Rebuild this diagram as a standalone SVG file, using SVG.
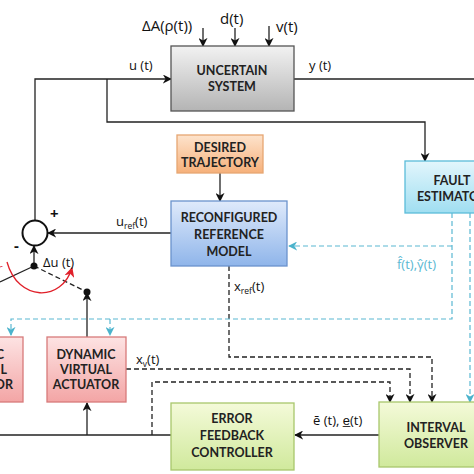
<svg xmlns="http://www.w3.org/2000/svg" width="474" height="474" viewBox="0 0 474 474">
<defs>
<linearGradient id="gGray" x1="0" y1="0" x2="0" y2="1"><stop offset="0" stop-color="#f2f2f2"/><stop offset="1" stop-color="#b4b4b4"/></linearGradient>
<linearGradient id="gOrange" x1="0" y1="0" x2="0" y2="1"><stop offset="0" stop-color="#fde3cc"/><stop offset="1" stop-color="#f6b07a"/></linearGradient>
<linearGradient id="gBlue" x1="0" y1="0" x2="0" y2="1"><stop offset="0" stop-color="#dfeafb"/><stop offset="1" stop-color="#8fb5ea"/></linearGradient>
<linearGradient id="gCyan" x1="0" y1="0" x2="0" y2="1"><stop offset="0" stop-color="#e2f6fc"/><stop offset="1" stop-color="#a0def1"/></linearGradient>
<linearGradient id="gPink" x1="0" y1="0" x2="0" y2="1"><stop offset="0" stop-color="#fde3e3"/><stop offset="1" stop-color="#f3a5a5"/></linearGradient>
<linearGradient id="gGreen" x1="0" y1="0" x2="0" y2="1"><stop offset="0" stop-color="#f4fad9"/><stop offset="1" stop-color="#d0e99c"/></linearGradient>
<marker id="ab" viewBox="0 0 10 10" refX="9" refY="5" markerWidth="9" markerHeight="9" markerUnits="userSpaceOnUse" orient="auto"><path d="M0,0 L10,5 L0,10 L3,5 z" fill="#111"/></marker>
<marker id="ac" viewBox="0 0 10 10" refX="9" refY="5" markerWidth="9" markerHeight="9" markerUnits="userSpaceOnUse" orient="auto"><path d="M0,0 L10,5 L0,10 L3,5 z" fill="#4bb3cc"/></marker>
<marker id="ar" viewBox="0 0 10 10" refX="9" refY="5" markerWidth="10" markerHeight="10" markerUnits="userSpaceOnUse" orient="auto"><path d="M0,0 L10,5 L0,10 L3,5 z" fill="#e0202a"/></marker>
</defs>
<style>
.box{stroke-width:1.3}
.bt{font-family:Lato,"Open Sans",sans-serif;font-weight:bold;font-size:12.5px;fill:#222;text-anchor:middle}
.lb{font-family:"Open Sans",sans-serif;font-size:13px;fill:#111}
.big{font-family:"Open Sans",sans-serif;font-size:15px;fill:#111}
.ln{fill:none;stroke:#222;stroke-width:1.3}
.dl{fill:none;stroke:#222;stroke-width:1.3;stroke-dasharray:5,3}
.cl{fill:none;stroke:#5ab8d2;stroke-width:1.2;stroke-dasharray:5,3}
</style>
<rect width="474" height="474" fill="#fff"/>
<g id="connectors">
<path class="ln" d="M35,221 V79 H171" marker-end="url(#ab)"/>
<path class="ln" d="M107,79 V122 H425 V161" marker-end="url(#ab)"/>
<path class="ln" d="M294,79 H474"/>
<path class="ln" d="M203,28 V46" marker-end="url(#ab)"/>
<path class="ln" d="M235,28 V46" marker-end="url(#ab)"/>
<path class="ln" d="M269,26 V46" marker-end="url(#ab)"/>
<path class="ln" d="M220,173 V201" marker-end="url(#ab)"/>
<path class="ln" d="M171,233 H48" marker-end="url(#ab)"/>
<path class="ln" d="M34,266 V246" marker-end="url(#ab)"/>
<path class="ln" d="M0,282 L34,266"/>
<path class="dl" d="M34,266 L87,292"/>
<path class="ln" d="M87,337 V293" marker-end="url(#ab)"/>
<path class="ln" d="M0,435 H171"/>
<path class="ln" d="M87,435 V403" marker-end="url(#ab)"/>
<path class="dl" d="M152,435 V382 H390 V402" marker-end="url(#ab)"/>
<path class="dl" d="M126,369 H410 V402" marker-end="url(#ab)"/>
<path class="dl" d="M229,266 V357 H432 V402" marker-end="url(#ab)"/>
<path class="ln" d="M379,435 H295" marker-end="url(#ab)"/>
<path class="cl" d="M452,213 V319 H11 V335" marker-end="url(#ac)"/>
<path class="cl" d="M110,319 V335" marker-end="url(#ac)"/>
<path class="cl" d="M452,246 H289" marker-end="url(#ac)"/>
<path class="cl" d="M470,213 V402" marker-end="url(#ac)"/>
<path fill="none" stroke="#e0202a" stroke-width="1.3" d="M7,262 C18,302 62,302 72,268" marker-end="url(#ar)"/>
<circle cx="34" cy="266" r="3.5" fill="#111"/>
<circle cx="87" cy="292" r="3.5" fill="#111"/>
</g>
<g id="sum">
<circle cx="35" cy="233" r="12.5" fill="#fff" stroke="#111" stroke-width="2"/>
<text class="big" x="50" y="219" style="font-size:15px;font-weight:bold">+</text>
<text class="big" x="14" y="251" style="font-size:15px;font-weight:bold">-</text>
</g>
<g id="uncertain">
<rect class="box" x="171" y="46" width="123" height="65" fill="url(#gGray)" stroke="#555"/>
<text class="bt" x="232" y="75">UNCERTAIN</text>
<text class="bt" x="232" y="91">SYSTEM</text>
</g>
<g id="desired">
<rect class="box" x="177" y="135" width="86" height="38" fill="url(#gOrange)" stroke="#e6a672"/>
<text class="bt" x="220" y="152">DESIRED</text>
<text class="bt" x="220" y="167">TRAJECTORY</text>
</g>
<g id="reconfigured">
<rect class="box" x="171" y="201" width="116" height="65" fill="url(#gBlue)" stroke="#6a93cc"/>
<text class="bt" x="229" y="222">RECONFIGURED</text>
<text class="bt" x="229" y="239">REFERENCE</text>
<text class="bt" x="229" y="256">MODEL</text>
</g>
<g id="fault">
<rect class="box" x="405" y="161" width="94" height="52" fill="url(#gCyan)" stroke="#5bbcd9"/>
<text class="bt" x="452" y="185">FAULT</text>
<text class="bt" x="452" y="201">ESTIMATOR</text>
</g>
<g id="leftbox">
<rect class="box" x="-60" y="337" width="83" height="65" fill="url(#gPink)" stroke="#d77a7a"/>
<text class="bt" x="4" y="359" style="text-anchor:end">C</text>
<text class="bt" x="7" y="374" style="text-anchor:end">L</text>
<text class="bt" x="13" y="389" style="text-anchor:end">OR</text>
</g>
<g id="dva">
<rect class="box" x="47" y="337" width="79" height="65" fill="url(#gPink)" stroke="#d77a7a"/>
<text class="bt" x="86" y="359">DYNAMIC</text>
<text class="bt" x="86" y="374">VIRTUAL</text>
<text class="bt" x="86" y="389">ACTUATOR</text>
</g>
<g id="efc">
<rect class="box" x="171" y="403" width="123" height="67" fill="url(#gGreen)" stroke="#a8c76c"/>
<text class="bt" x="232" y="423">ERROR</text>
<text class="bt" x="232" y="440">FEEDBACK</text>
<text class="bt" x="232" y="457">CONTROLLER</text>
</g>
<g id="observer">
<rect class="box" x="379" y="402" width="110" height="65" fill="url(#gGreen)" stroke="#a8c76c"/>
<text class="bt" x="436" y="432">INTERVAL</text>
<text class="bt" x="436" y="448">OBSERVER</text>
</g>
<g id="labels">
<text class="big" x="142" y="31">ΔA(ρ(t))</text>
<text class="big" x="220" y="24">d(t)</text>
<text class="big" x="276" y="32">v(t)</text>
<text class="lb" x="129" y="70">u (t)</text>
<text class="lb" x="309" y="70">y (t)</text>
<text class="lb" x="116" y="226">u<tspan font-size="8.5" dy="3">ref</tspan><tspan dy="-3">(t)</tspan></text>
<text class="lb" x="43" y="267">Δu (t)</text>
<text class="lb" x="234" y="291">x<tspan font-size="8.5" dy="3">ref</tspan><tspan dy="-3">(t)</tspan></text>
<text class="lb" x="136" y="364">x<tspan font-size="8.5" dy="3">v</tspan><tspan dy="-3">(t)</tspan></text>
<text class="lb" x="313" y="425">ē (t), e̲(t)</text>
<text class="lb" x="397" y="269" style="fill:#5ab8d2">f̂(t),γ̂(t)</text>
<text class="lb" x="-3" y="273" style="fill:#e0202a;font-style:italic">r</text>
</g>
</svg>
